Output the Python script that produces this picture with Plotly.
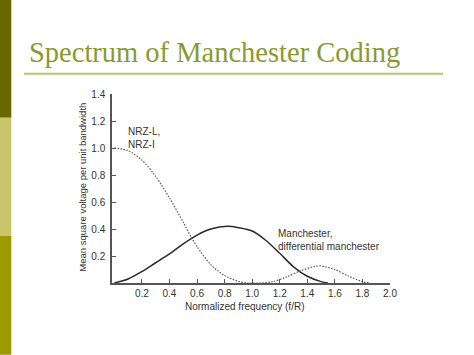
import plotly.graph_objects as go

# ---- data ----
manchester_f = [0, 0.1, 0.2, 0.3, 0.4, 0.5, 0.6, 0.7, 0.82, 0.9, 1.0, 1.1, 1.2, 1.3, 1.4, 1.5, 1.55]
manchester_v = [0, 0.03, 0.085, 0.15, 0.215, 0.29, 0.355, 0.4, 0.42, 0.41, 0.385, 0.315, 0.22, 0.12, 0.05, 0.01, 0]

nrz_f = [0, 0.1, 0.2, 0.3, 0.4, 0.5, 0.56, 0.6, 0.7, 0.8, 0.9, 0.96, 1.05, 1.15, 1.25, 1.35, 1.45, 1.5, 1.6, 1.7, 1.8, 1.85]
nrz_v = [1.0, 0.98, 0.91, 0.79, 0.63, 0.45, 0.335, 0.27, 0.135, 0.055, 0.012, 0, 0, 0.01, 0.045, 0.09, 0.122, 0.126, 0.1, 0.05, 0.01, 0]

x_ticks = [0.2, 0.4, 0.6, 0.8, 1.0, 1.2, 1.4, 1.6, 1.8, 2.0]
y_ticks = [0.2, 0.4, 0.6, 0.8, 1.0, 1.2, 1.4]

title_text = "Spectrum of Manchester Coding"
x_title = "Normalized frequency (f/R)"
y_title = "Mean square voltage per unit bandwidth"
nrz_label = "NRZ-L,<br>NRZ-I"
man_label = "Manchester,<br>differential manchester"

# ---- layout geometry (pixels) ----
FW, FH = 474, 355
L, R, T, B = 112, 390, 94.3, 283.3
W, H = R - L, B - T

def px(x):
    return (x - L) / W

def py(y):
    return (B - y) / H

fig = go.Figure()
fig.add_trace(go.Scatter(x=manchester_f, y=manchester_v, mode="lines",
                         line=dict(color="#2a2a2a", width=1.5, shape="spline", smoothing=0.8),
                         hoverinfo="skip"))
fig.add_trace(go.Scatter(x=nrz_f, y=nrz_v, mode="lines",
                         line=dict(color="#555555", width=1.2, dash="1.5px,1.5px", shape="spline", smoothing=0.8),
                         hoverinfo="skip"))

axis_common = dict(showline=True, linecolor="#555555", linewidth=1.5, ticks="inside",
                   ticklen=4, tickwidth=1.2, tickcolor="#555555", showgrid=False, zeroline=False,
                   tickfont=dict(family="Liberation Sans, Arial", size=10, color="#333333"))

fig.update_xaxes(range=[-0.017, 2.0], tickvals=x_ticks, ticktext=[f"{v:.1f}" for v in x_ticks],
                 ticklabelstandoff=0, **axis_common)
fig.update_yaxes(range=[0, 1.4], tickvals=y_ticks, ticktext=[f"{v:.1f}" for v in y_ticks],
                 ticklabelstandoff=3, **axis_common)

shapes = []
# left decorative bar
bar_w = 11.3
for y0, y1, col in [(0, 118, "#686800"), (118, 236, "#c9c56c"), (236, FH, "#9c9a00")]:
    shapes.append(dict(type="rect", xref="paper", yref="paper", x0=px(0), x1=px(bar_w),
                       y0=py(y1), y1=py(y0), fillcolor=col, line=dict(width=0), layer="below"))
# title underline
shapes.append(dict(type="line", xref="paper", yref="paper", x0=px(24), x1=px(443),
                   y0=py(74), y1=py(74), line=dict(color="#b8c46e", width=2)))

annotations = [
    dict(text=title_text, xref="paper", yref="paper", x=px(27), y=py(53), xanchor="left",
         yanchor="middle", showarrow=False,
         font=dict(family="Liberation Serif, DejaVu Serif, serif", size=28.5, color="#8b9a2e")),
    dict(text=x_title, xref="paper", yref="paper", x=px(244), y=py(306.5), xanchor="center",
         yanchor="middle", showarrow=False,
         font=dict(family="Liberation Sans, Arial", size=10, color="#333333")),
    dict(text=y_title, xref="paper", yref="paper", x=px(83), y=py(188), xanchor="center",
         yanchor="middle", textangle=-90, showarrow=False,
         font=dict(family="Liberation Sans, Arial", size=9.5, color="#333333")),
    dict(text=nrz_label, xref="paper", yref="paper", x=px(126), y=py(124), xanchor="left", yanchor="top",
         align="left", showarrow=False,
         font=dict(family="Liberation Sans, Arial", size=10, color="#333333")),
    dict(text=man_label, xref="paper", yref="paper", x=px(276), y=py(226), xanchor="left", yanchor="top",
         align="left", showarrow=False,
         font=dict(family="Liberation Sans, Arial", size=10, color="#333333")),
]

fig.update_layout(width=FW, height=FH, margin=dict(l=L, r=FW - R, t=T, b=FH - B),
                  paper_bgcolor="white", plot_bgcolor="white", showlegend=False,
                  shapes=shapes, annotations=annotations)

fig.write_html("out.html", config={"displayModeBar": False},
               post_script="document.body.style.margin='0px';document.body.style.overflow='hidden';")
